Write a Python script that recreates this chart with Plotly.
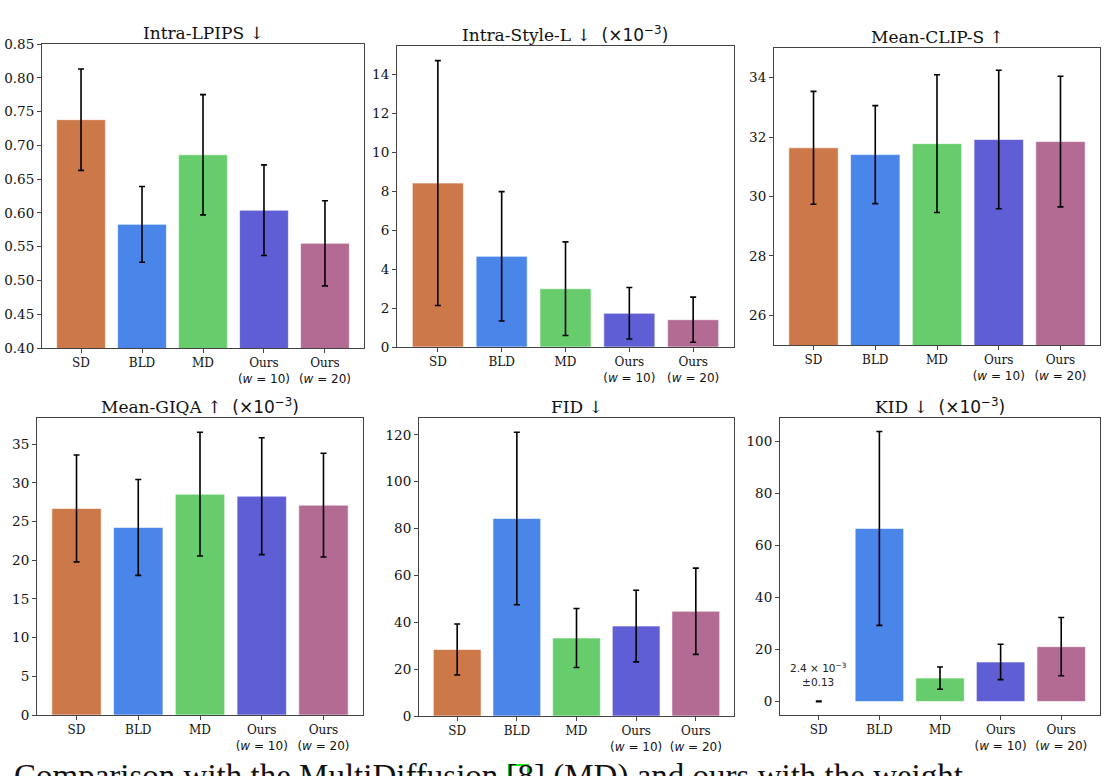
import plotly.graph_objects as go

W, H = 1107, 776

methods = ["SD", "BLD", "MD", "Ours10", "Ours20"]
tick_text = [
    "SD", "BLD", "MD",
    "Ours<br><span style='font-family:DejaVu Sans'>(<i>w</i> = 10)</span>",
    "Ours<br><span style='font-family:DejaVu Sans'>(<i>w</i> = 20)</span>",
]
colors = ["#cd7848", "#4a85e9", "#66cc6c", "#5f5ed4", "#b36b94"]

# metric values (mean) and std
lpips_mean = [0.738, 0.583, 0.686, 0.604, 0.555]
lpips_std = [0.075, 0.056, 0.089, 0.067, 0.063]
style_mean = [8.41, 4.65, 2.99, 1.73, 1.40]
style_std = [6.28, 3.32, 2.40, 1.32, 1.16]
clip_mean = [31.64, 31.41, 31.78, 31.92, 31.85]
clip_std = [1.90, 1.65, 2.32, 2.33, 2.20]
giqa_mean = [26.69, 24.24, 28.54, 28.28, 27.12]
giqa_std = [6.9, 6.2, 8.0, 7.55, 6.7]
fid_mean = [28.4, 84.3, 33.3, 38.4, 44.7]
fid_std = [10.9, 36.8, 12.6, 15.3, 18.4]
kid_mean = [0.0024, 66.6, 9.0, 15.2, 21.1]
kid_std = [0.13, 37.3, 4.3, 6.8, 11.2]

titles = [
    "Intra-LPIPS ↓",
    "Intra-Style-L ↓  <span style='font-family:DejaVu Sans'>(×10<sup>−3</sup>)</span>",
    "Mean-CLIP-S ↑",
    "Mean-GIQA ↑  <span style='font-family:DejaVu Sans'>(×10<sup>−3</sup>)</span>",
    "FID ↓",
    "KID ↓  <span style='font-family:DejaVu Sans'>(×10<sup>−3</sup>)</span>",
]
means = [lpips_mean, style_mean, clip_mean, giqa_mean, fid_mean, kid_mean]
stds = [lpips_std, style_std, clip_std, giqa_std, fid_std, kid_std]
y_ranges = [[0.40, 0.85], [0, 15.44], [25, 35], [0, 38.38], [0, 127.2], [-5.2, 109.1]]
y_ticks = [
    [0.40, 0.45, 0.50, 0.55, 0.60, 0.65, 0.70, 0.75, 0.80, 0.85],
    [0, 2, 4, 6, 8, 10, 12, 14],
    [26, 28, 30, 32, 34],
    [0, 5, 10, 15, 20, 25, 30, 35],
    [0, 20, 40, 60, 80, 100, 120],
    [0, 20, 40, 60, 80, 100],
]
y_fmt = [".2f", "d", "d", "d", "d", "d"]

caption = "Comparison with the MultiDiffusion [8] (MD) and ours with the weight"

# panel boxes in pixels (x0, x1, y0, y1)
boxes = [
    (42, 364, 44, 348),
    (397, 734, 46, 347),
    (774, 1100, 48, 345),
    (37, 363, 418, 715),
    (419, 734, 418, 716),
    (780, 1100, 418, 715),
]

fig = go.Figure()
annotations = []
layout = dict(
    width=W, height=H,
    margin=dict(l=0, r=0, t=0, b=0, autoexpand=False),
    paper_bgcolor="white", plot_bgcolor="white",
    showlegend=False,
    font=dict(family="DejaVu Serif", color="#111"),
)

for i in range(6):
    idx = "" if i == 0 else str(i + 1)
    x0, x1, y0, y1 = boxes[i]
    fig.add_trace(go.Bar(
        x=list(range(5)), y=means[i],
        marker=dict(color=colors, line=dict(color="rgba(255,255,255,0.6)", width=1)),
        width=0.8,
        error_y=dict(type="data", array=stds[i], color="black", thickness=1.6, width=3),
        xaxis="x" + idx, yaxis="y" + idx,
        hoverinfo="skip",
    ))
    axis_common = dict(showline=True, linecolor="#444", linewidth=1, mirror=True,
                       ticks="outside", ticklen=4, tickcolor="#444", showgrid=False,
                       zeroline=False, automargin=False)
    layout["xaxis" + idx] = dict(
        domain=[x0 / W, x1 / W], anchor="y" + idx,
        range=[-0.64, 4.64], tickvals=list(range(5)), ticktext=tick_text,
        tickfont=dict(family="DejaVu Serif", size=12, color="#111"),
        **axis_common,
    )
    layout["yaxis" + idx] = dict(
        domain=[1 - y1 / H, 1 - y0 / H], anchor="x" + idx,
        range=y_ranges[i], tickvals=y_ticks[i], tickformat=y_fmt[i],
        tickfont=dict(family="DejaVu Serif", size=13.5, color="#111"),
        **axis_common,
    )
    annotations.append(dict(
        text=titles[i], xref="paper", yref="paper",
        x=(x0 + x1) / 2 / W, y=1 - (y0 + 1) / H,
        xanchor="center", yanchor="bottom", showarrow=False,
        font=dict(family="DejaVu Serif", size=17, color="#111"),
    ))

annotations.append(dict(
    text="2.4 × 10<sup>−3</sup><br>±0.13", xref="x6", yref="y6",
    x=0, y=10.3, xanchor="center", yanchor="middle", showarrow=False,
    font=dict(family="DejaVu Sans", size=10.5, color="#222"),
))

annotations.append(dict(
    text=caption,
    xref="paper", yref="paper", x=12 / W, y=1 - 756 / H,
    xanchor="left", yanchor="top", showarrow=False,
    font=dict(family="Liberation Serif", size=33, color="#111"),
))

layout["annotations"] = annotations
layout["shapes"] = [dict(
    type="rect", xref="paper", yref="paper",
    x0=509 / W, x1=528 / W, y0=1 - 800 / H, y1=1 - 765 / H,
    line=dict(color="#22ee22", width=2), fillcolor="rgba(0,0,0,0)",
)]
fig.update_layout(**layout)
fig.write_html(
    "out.html",
    config={"displayModeBar": False, "staticPlot": True},
    post_script="document.body.style.margin='0px';document.body.style.overflow='hidden';",
)
